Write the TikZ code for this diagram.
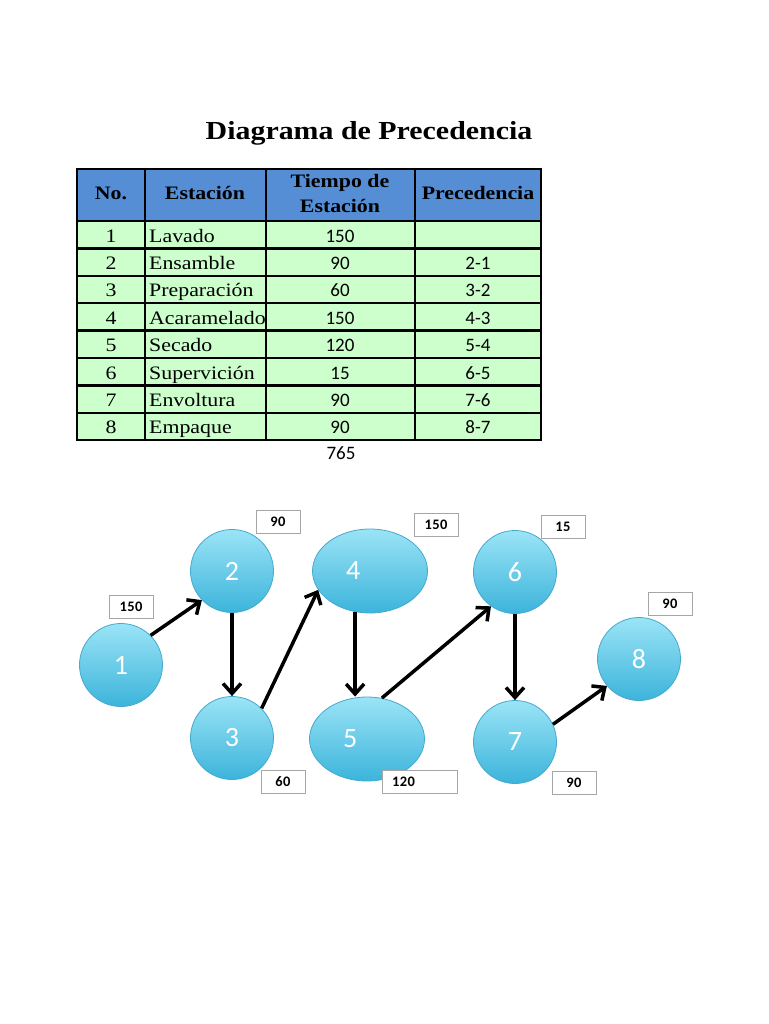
\documentclass[tikz,border=0pt]{standalone}
\usepackage{fontspec}
\setmainfont[FakeStretch=1.15]{Liberation Serif}
\newfontfamily\calibri{Carlito}
\newfontfamily\tagfont[LetterSpace=3]{Carlito}
\usetikzlibrary{shapes.geometric,arrows.meta}
\definecolor{head}{HTML}{558ED5}
\definecolor{rowgreen}{HTML}{CCFFCC}
\definecolor{ball1}{HTML}{9BE4F6}
\definecolor{ball2}{HTML}{3CB4DB}
\definecolor{ballrim}{HTML}{45A9CF}
\definecolor{tagrim}{HTML}{A6A6A6}
\tikzset{
  cell/.style={anchor=base, inner sep=0, font=\fontsize{19}{19}\selectfont},
  cellnum/.style={cell, font=\calibri\fontsize{19}{19}\selectfont},
  cellhead/.style={cell, font=\bfseries\fontsize{19}{19}\selectfont},
  station/.style={circle, draw=ballrim, line width=0.8, top color=ball1, bottom color=ball2,
    text=white, font=\calibri\fontsize{28}{28}\selectfont, minimum size=83, inner sep=0},
  wide/.style={station, ellipse, minimum width=115, minimum height=84},
  tag/.style={draw=tagrim, fill=white, line width=0.8, minimum width=44, minimum height=23,
    inner sep=0, font=\tagfont\bfseries\fontsize{14.5}{14.5}\selectfont},
  link/.style={line width=3.5, -{Straight Barb[length=10pt, width=18pt]}},
}
\begin{document}
\begin{tikzpicture}[x=1pt, y=-1pt]
\fill[white] (0,0) rectangle (768,1024);
\useasboundingbox (0,0) rectangle (768,1024);

\node[anchor=base, inner sep=0, font=\bfseries\fontsize{26}{26}\selectfont] (title) at (369,140) {Diagrama de Precedencia};

\filldraw[fill=head, line width=2.5] (77,169) rectangle (541,221);
\filldraw[shift={(0,0)}, fill=rowgreen, line width=2.5] (77,221) rectangle (541,248.4);
\filldraw[shift={(0,27.4)}, fill=rowgreen, line width=2.5] (77,221) rectangle (541,248.4);
\filldraw[shift={(0,54.8)}, fill=rowgreen, line width=2.5] (77,221) rectangle (541,248.4);
\filldraw[shift={(0,82.2)}, fill=rowgreen, line width=2.5] (77,221) rectangle (541,248.4);
\filldraw[shift={(0,109.6)}, fill=rowgreen, line width=2.5] (77,221) rectangle (541,248.4);
\filldraw[shift={(0,137)}, fill=rowgreen, line width=2.5] (77,221) rectangle (541,248.4);
\filldraw[shift={(0,164.4)}, fill=rowgreen, line width=2.5] (77,221) rectangle (541,248.4);
\filldraw[shift={(0,191.8)}, fill=rowgreen, line width=2.5] (77,221) rectangle (541,248.4);
\draw[line width=2.5] (145,169) -- (145,440.2);
\draw[line width=2.5] (266,169) -- (266,440.2);
\draw[line width=2.5] (415,169) -- (415,440.2);

\node[cellhead] (hno) at (111,200) {No.};
\node[cellhead] (hest) at (205,200) {Estación};
\node[cellhead] (htiempo) at (340,188) {Tiempo de};
\node[cellhead] (htiempob) at (340,213) {Estación};
\node[cellhead] (hprec) at (478,200) {Precedencia};

\node[cell] (no1) at (111,242) {1};
\node[cell, anchor=base west] (est1) at (149,242) {Lavado};
\node[cellnum] (t1) at (340,242) {150};

\node[cell] (no2) at (111,269.4) {2};
\node[cell, anchor=base west] (est2) at (149,269.4) {Ensamble};
\node[cellnum] (t2) at (340,269.4) {90};
\node[cellnum] (p2) at (478,269.4) {2-1};

\node[cell] (no3) at (111,296.8) {3};
\node[cell, anchor=base west] (est3) at (149,296.8) {Preparación};
\node[cellnum] (t3) at (340,296.8) {60};
\node[cellnum] (p3) at (478,296.8) {3-2};

\node[cell] (no4) at (111,324.2) {4};
\node[cell, anchor=base west] (est4) at (149,324.2) {Acaramelado};
\node[cellnum] (t4) at (340,324.2) {150};
\node[cellnum] (p4) at (478,324.2) {4-3};

\node[cell] (no5) at (111,351.6) {5};
\node[cell, anchor=base west] (est5) at (149,351.6) {Secado};
\node[cellnum] (t5) at (340,351.6) {120};
\node[cellnum] (p5) at (478,351.6) {5-4};

\node[cell] (no6) at (111,379) {6};
\node[cell, anchor=base west] (est6) at (149,379) {Supervición};
\node[cellnum] (t6) at (340,379) {15};
\node[cellnum] (p6) at (478,379) {6-5};

\node[cell] (no7) at (111,406.4) {7};
\node[cell, anchor=base west] (est7) at (149,406.4) {Envoltura};
\node[cellnum] (t7) at (340,406.4) {90};
\node[cellnum] (p7) at (478,406.4) {7-6};

\node[cell] (no8) at (111,433.8) {8};
\node[cell, anchor=base west] (est8) at (149,433.8) {Empaque};
\node[cellnum] (t8) at (340,433.8) {90};
\node[cellnum] (p8) at (478,433.8) {8-7};

\node[cellnum] (total) at (341,459) {765};

\node[station] (n1) at (121,665) {1};
\node[station] (n2) at (232,571) {2};
\node[station] (n3) at (232,738) {3};
\node[wide] (n4) at (370,571) {\makebox[48pt][l]{4}};
\node[wide] (n5) at (367,739) {\makebox[48pt][l]{5}};
\node[station] (n6) at (515,572) {6};
\node[station] (n7) at (515,742) {7};
\node[station] (n8) at (639,659) {8};

\node[tag] (w1) at (131,607) {150};
\node[tag] (w2) at (278,522) {90};
\node[tag] (w3) at (283,782) {60};
\node[tag] (w4) at (436,525) {150};
\node[tag, minimum width=75] (w5) at (420,782) {\makebox[56pt][l]{120}};
\node[tag] (w6) at (563,527) {15};
\node[tag] (w7) at (574,783) {90};
\node[tag] (w8) at (670,604) {90};

\draw[link] (n1.45) -- (n2.224);
\draw[link] (n2.south) -- (n3.north);
\draw[link] (n3.45) -- (n4.200);
\draw[link] (n4.250) -- (n4.250 |- n5.north);
\draw[link] (n5.70) -- (n6.235);
\draw[link] (n6.south) -- (n7.north);
\draw[link] (n7.25) -- (n8.220);
\end{tikzpicture}
\end{document}
